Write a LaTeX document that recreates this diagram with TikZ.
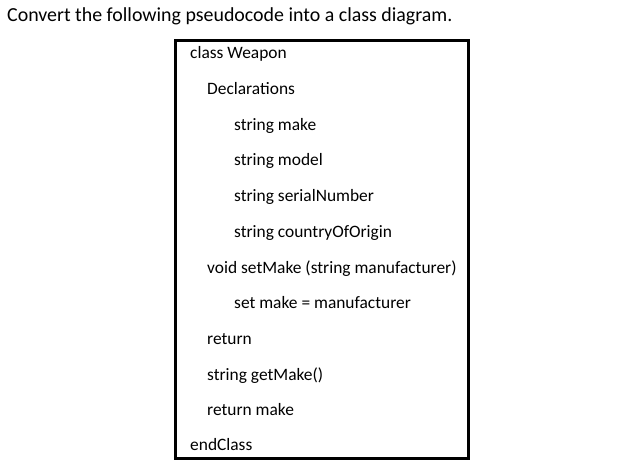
\documentclass[tikz,border=0pt]{standalone}
\usepackage{fontspec}
\setmainfont{Carlito}
\begin{document}
\begin{tikzpicture}[x=1pt,y=-1pt,
  line/.style={anchor=base west,inner sep=0pt,font=\fontsize{17.4}{20}\selectfont}]
\useasboundingbox (0,0) rectangle (637,461);
\node[anchor=base west,inner sep=0pt,font=\fontsize{19.9}{23}\selectfont] (title) at (7,21) {Convert the following pseudocode into a class diagram.};
\node[draw,line width=3pt,minimum width=293pt,minimum height=418pt,anchor=north west,inner sep=0pt] (box) at (173.5,38.5) {};
\node[line] (l1) at (190,58) {class Weapon};
\node[line] (l2) at (207,94) {Declarations};
\node[line] (l3) at (234,130) {string make};
\node[line] (l4) at (234,165) {string model};
\node[line] (l5) at (234,201) {string serialNumber};
\node[line] (l6) at (234,237) {string countryOfOrigin};
\node[line] (l7) at (207,273) {void setMake (string manufacturer)};
\node[line] (l8) at (234,308) {set make = manufacturer};
\node[line] (l9) at (207,344) {return};
\node[line] (l10) at (207,380) {string getMake()};
\node[line] (l11) at (207,415) {return make};
\node[line] (l12) at (190,450) {endClass};
\end{tikzpicture}
\end{document}
